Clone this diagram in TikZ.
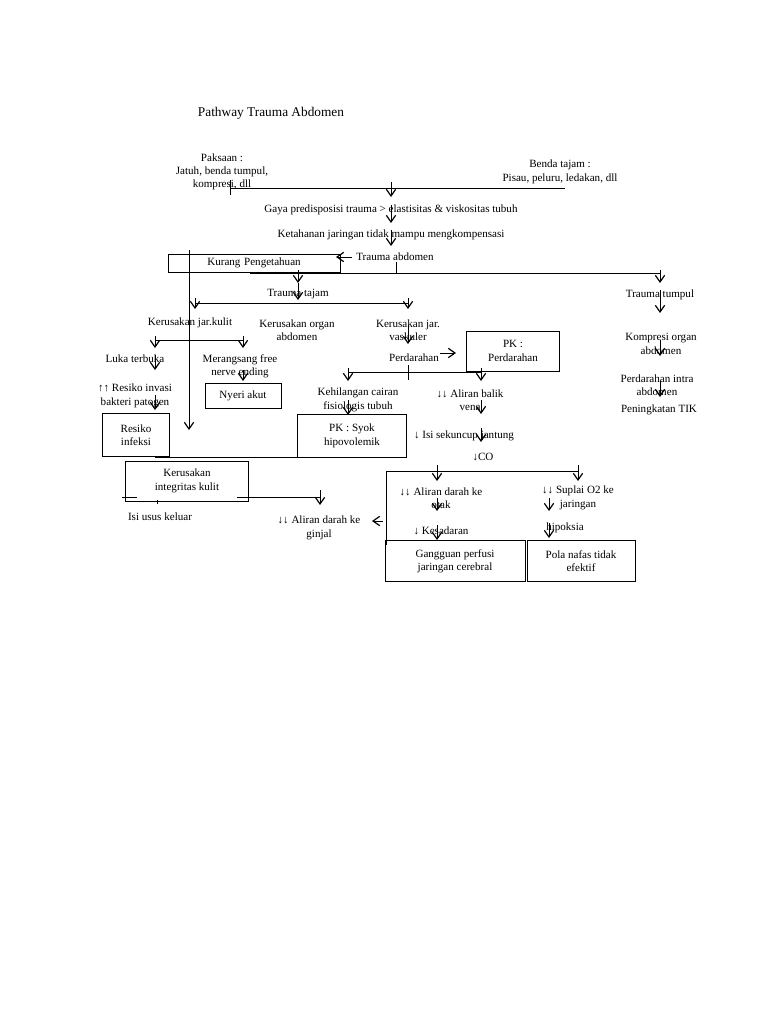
\documentclass[tikz,border=0pt]{standalone}
\usepackage{fontspec}
\setmainfont{Liberation Serif}
\usetikzlibrary{arrows.meta}
\begin{document}
\begin{tikzpicture}[x=0.75pt,y=-0.75pt,
  t/.style={font=\fontsize{8.3}{10}\selectfont,align=center,inner sep=1pt},
  bx/.style={t,draw,line width=0.6pt,inner sep=3pt},
  ln/.style={line width=0.6pt},
  ar/.style={line width=0.6pt,-{Straight Barb[length=5pt,width=7pt,line width=0.9pt]}}]
\useasboundingbox (0,0) rectangle (768,1024);
\node[t,font=\fontsize{10}{12}\selectfont] (title) at (271,113) {Pathway Trauma Abdomen};
\node[t] (paks) at (222,172) {Paksaan :\\Jatuh, benda tumpul,\\kompresi, dll};
\node[t] (benda) at (560,172) {Benda tajam :\\Pisau, peluru, ledakan, dll};
\draw[ln] (230,188) -- (565,188);
\draw[ln] (230,180) -- (230,195);
\draw[ar] (391,182) -- (391,197);
\node[t] (gaya) at (391,210) {Gaya predisposisi trauma > elastisitas \& viskositas tubuh};
\draw[ar] (391,205) -- (391,223);
\node[t] (keta) at (391,235) {Ketahanan jaringan tidak mampu mengkompensasi};
\draw[ar] (391,230) -- (391,246);
\node[t] (tabd) at (395,257) {Trauma abdomen};
\draw[ar] (352,257) -- (336,257);
\node[bx,minimum width=129pt*0.75/0.75,text width=120] (kp) at (254,263) {Kurang Pengetahuan};
\draw[ln] (396,262) -- (396,273);
\draw[ln] (250,273) -- (660,273);
\draw[ar] (660,270) -- (660,283);
\draw[ar] (298,270) -- (298,283);
\draw[ar] (298,283) -- (298,300);
\draw[ar] (189,250) -- (189,430);
\node[t] (tt) at (298,294) {Trauma tajam};
\draw[ln] (195,303) -- (408,303);
\draw[ar] (195,298) -- (195,309);
\draw[ar] (408,298) -- (408,309);
\node[t] (ttum) at (660,295) {Trauma tumpul};
\draw[ar] (660,290) -- (660,313);
\node[t] (kjk) at (190,323) {Kerusakan jar.kulit};
\node[t] (koa) at (297,330) {Kerusakan organ\\abdomen};
\node[t] (kjv) at (408,330) {Kerusakan jar.\\vaskuler};
\draw[ar] (408,325) -- (408,344);
\draw[ln] (155,340) -- (243,340);
\draw[ar] (155,336) -- (155,348);
\draw[ar] (243,336) -- (243,348);
\node[t] (luka) at (135,359) {Luka terbuka};
\draw[ar] (155,355) -- (155,370);
\node[t] (mer) at (240,366) {Merangsang free\\nerve ending};
\draw[ar] (243,370) -- (243,381);
\node[t] (res) at (135,396) {↑↑ Resiko invasi\\bakteri patogen};
\draw[ar] (155,395) -- (155,410);
\node[bx,minimum width=57,minimum height=19] (nyeri) at (243,396) {Nyeri akut};
\node[bx,minimum width=50,minimum height=32] (rinf) at (136,435) {Resiko\\infeksi};
\node[t] (perd) at (414,358) {Perdarahan};
\draw[ar] (440,353) -- (456,353);
\node[bx,minimum width=70,minimum height=30] (pkp) at (513,351) {PK :\\Perdarahan};
\draw[ln] (348,372) -- (481,372);
\draw[ln] (408,365) -- (408,380);
\draw[ar] (348,368) -- (348,381);
\draw[ar] (481,368) -- (481,381);
\node[t] (keh) at (358,400) {Kehilangan cairan\\fisiologis tubuh};
\draw[ar] (348,400) -- (348,415);
\node[t] (alb) at (470,400) {↓↓ Aliran balik\\vena};
\draw[ar] (481,400) -- (481,414);
\node[bx,minimum width=82,minimum height=32] (pks) at (352,436) {PK : Syok\\hipovolemik};
\draw[ln] (155,457) -- (395,457);
\node[t] (isi) at (464,436) {↓ Isi sekuncup jantung};
\draw[ar] (481,428) -- (481,442);
\node[t] (co) at (483,457) {↓CO};
\draw[ln] (386,471) -- (578,471);
\draw[ln] (386,471) -- (386,545);
\draw[ar] (437,465) -- (437,481);
\draw[ar] (578,465) -- (578,481);
\node[t] (ado) at (441,498) {↓↓ Aliran darah ke\\otak};
\draw[ar] (437,498) -- (437,511);
\node[t] (sup) at (578,498) {↓↓ Suplai O2 ke\\jaringan};
\draw[ar] (549,498) -- (549,511);
\node[t] (kes) at (441,531) {↓ Kesadaran};
\draw[ar] (437,525) -- (437,540);
\node[t] (hip) at (565,528) {hipoksia};
\draw[ar] (549,523) -- (549,538);
\node[bx,minimum width=105,minimum height=31] (ggp) at (455,561) {Gangguan perfusi\\jaringan cerebral};
\node[bx,minimum width=81,minimum height=31] (pol) at (581,561) {Pola nafas tidak\\efektif};
\draw[ar] (383,521) -- (372,521);
\node[t] (ginj) at (319,528) {↓↓ Aliran darah ke\\ginjal};
\node[bx,minimum width=92,minimum height=30,fill=white] (kik) at (187,481) {Kerusakan\\integritas kulit};
\draw[ln] (122,497) -- (137,497);
\draw[ln] (237,497) -- (320,497);
\draw[ar] (320,490) -- (320,505);
\draw[ln] (157,500) -- (157,504);
\node[t] (usus) at (160,517) {Isi usus keluar};
\node[t] (komp) at (661,344) {Kompresi organ\\abdomen};
\draw[ar] (660,340) -- (660,356);
\node[t] (pia) at (657,385) {Perdarahan intra\\abdomen};
\draw[ar] (660,381) -- (660,397);
\node[t] (tik) at (659,410) {Peningkatan TIK};
\end{tikzpicture}
\end{document}
